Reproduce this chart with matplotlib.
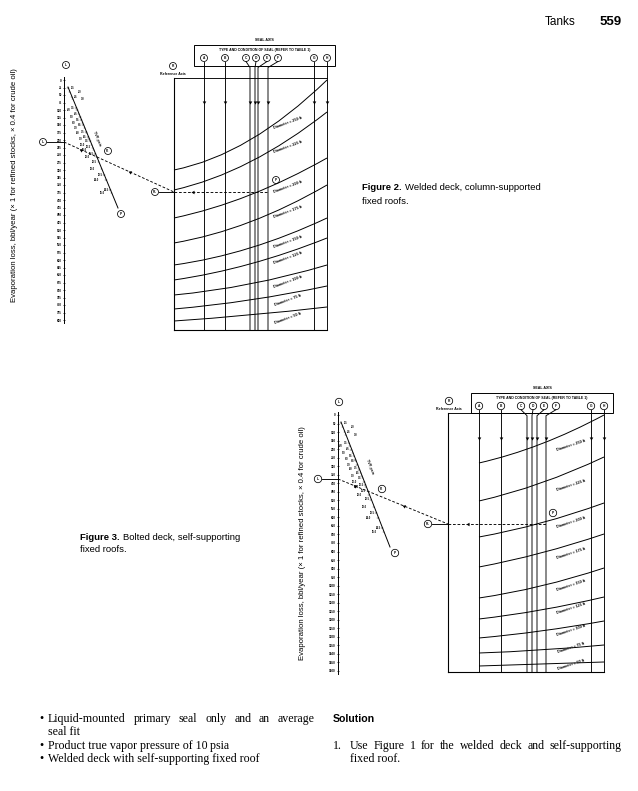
import numpy as np
import matplotlib.pyplot as plt
from matplotlib.path import Path
from matplotlib.patches import PathPatch, Circle, Rectangle

W, H = 638, 791
SANS = ["Liberation Sans", "DejaVu Sans"]
SERIF = ["Liberation Serif", "DejaVu Serif"]

# ---- nomograph data -------------------------------------------------------
SEAL_TYPES = ["A", "B", "C", "D", "E", "F", "G", "H"]
DIAMETERS = [250, 225, 200, 175, 150, 125, 100, 75, 50]
LOSS_TICKS_FIG2 = list(range(0, 801, 25))
LOSS_TICKS_FIG3 = list(range(0, 1501, 50))
TVP_LABELS = [1.5, 2.0, 2.5, 3.0, 3.5, 4.0, 4.5, 5.0, 5.5, 6.0, 6.5, 7.0, 7.5,
              8.0, 8.5, 9.0, 9.5, 10.0, 10.5, 11.0, 11.5, 12.0, 12.5, 13.0,
              13.5, 14.0, 14.5, 15.0]
# where each TVP label sits along the scale line (0 = top end, 1 = bottom end)
TVP_FRAC = [0.01, 0.04, 0.08, 0.10, 0.17, 0.19, 0.22, 0.25, 0.27, 0.30, 0.31,
            0.34, 0.37, 0.38, 0.41, 0.43, 0.45, 0.48, 0.50, 0.52, 0.55, 0.58,
            0.62, 0.68, 0.73, 0.77, 0.85, 0.88]

# diameter curves at left / middle / right of each chart
FIG2_CURVE_LEFT = [170, 190, 218, 243, 265, 280, 295, 309, 321]
FIG2_CURVE_MID = [140, 162, 195, 222, 248, 264, 284, 300, 315]
FIG2_CURVE_RIGHT = [80, 112, 158, 185, 218, 238, 265, 286, 307]
FIG3_CURVE_LEFT = [463, 501, 537, 567, 598, 619, 638, 653, 666]
FIG3_CURVE_MID = [444, 483, 523, 553, 586, 610, 631, 650, 664]
FIG3_CURVE_RIGHT = [415, 457, 503, 534, 568, 597, 621, 645, 662]

YLABEL = "Evaporation loss, bbl/year (\u00d7 1 for refined stocks, \u00d7 0.4 for crude oil)"

FIG2 = dict(
    ref_x=174, top_y=78, bottom_y=330,
    circle_x=[204, 225, 246, 256, 267, 278, 314, 327],
    line_x=[204, 225, 250, 255, 258, 268, 314, 327],
    circle_y=58, arrow_y=102, box=(194, 45, 335, 66),
    seal_axis_y=40, box_title_y=50, ref_circle=(173, 66), ref_label_y=74,
    curve_x=(174, 250, 327), label_x=288,
    label_y=[123, 147, 187, 212, 242, 258, 282, 300, 318], label_rot=20,
    L_x=64, L_y0=80, L_y1=320, L_circle=(66, 65), L1=(43, 142),
    tvp=((68, 87), (118, 208)), P_end=(121, 214), tvp_label=(97, 138),
    P1=(108, 151), R1=(155, 192), read_x=268, P=(276, 180),
    ylabel=(15, 185), r=3.5,
)
FIG3 = dict(
    ref_x=448, top_y=413, bottom_y=672,
    circle_x=[479, 501, 521, 533, 544, 556, 591, 604],
    line_x=[479, 501, 527, 532, 537, 546, 591, 604],
    circle_y=406, arrow_y=438, box=(471, 393, 613, 413),
    seal_axis_y=388, box_title_y=398, ref_circle=(449, 401), ref_label_y=409,
    curve_x=(479, 541, 604), label_x=571,
    label_y=[445, 485, 522, 553, 585, 608, 630, 648, 665], label_rot=18,
    L_x=338, L_y0=415, L_y1=671, L_circle=(339, 402), L1=(318, 479),
    tvp=((341, 422), (390, 547)), P_end=(395, 553), tvp_label=(370, 467),
    P1=(382, 489), R1=(428, 524), read_x=546, P=(553, 513),
    ylabel=(303, 543), r=3.7,
)


def circ(ax, x, y, label, r):
    ax.add_patch(Circle((x, y), r, fill=False, lw=0.55, ec="k"))
    ax.text(x, y, label, ha="center", va="center", fontsize=2.3,
            fontweight="bold", family=SANS)


def arrowhead(ax, x, y, dx, dy, ms=3.0):
    # page y grows downward, so flip dy for the on-screen angle
    ang = np.degrees(np.arctan2(-dy, dx)) - 90
    ax.plot(x, y, marker=(3, 0, ang), ms=ms, color="k", mew=0)


def draw_nomograph(fig, ax, c, loss_ticks, left, mid, right):
    r = c["r"]
    lw = 0.65
    bx0, by0, bx1, by1 = c["box"]
    cx = (bx0 + bx1) / 2
    ax.text(cx, c["seal_axis_y"], "SEAL AXIS", ha="center", va="center",
            fontsize=2.6, fontweight="bold", family=SANS)
    ax.add_patch(Rectangle((bx0, by0), bx1 - bx0, by1 - by0, fill=False,
                           lw=0.7, ec="k"))
    ax.text(cx, c["box_title_y"], "TYPE AND CONDITION OF SEAL (REFER TO TABLE 1)",
            ha="center", va="center", fontsize=2.5, fontweight="bold", family=SANS)

    # seal lines
    for s, xc, xl in zip(SEAL_TYPES, c["circle_x"], c["line_x"]):
        circ(ax, xc, c["circle_y"], s, r)
        ys = c["circle_y"] + r
        ax.plot([xc, xl, xl], [ys, ys + 6, c["bottom_y"]], color="k", lw=lw)
        arrowhead(ax, xl, c["arrow_y"], 0, 1)

    # frame: top, reference axis, bottom
    ax.plot([c["ref_x"], c["line_x"][-1]], [c["top_y"]] * 2, color="k", lw=lw)
    ax.plot([c["ref_x"]] * 2, [c["top_y"], c["bottom_y"]], color="k", lw=0.8)
    ax.plot([c["ref_x"], c["line_x"][-1]], [c["bottom_y"]] * 2, color="k", lw=0.8)
    circ(ax, *c["ref_circle"], "R", r)
    ax.text(c["ref_circle"][0], c["ref_label_y"], "Reference Axis", ha="center",
            va="center", fontsize=2.5, fontweight="bold", family=SANS)

    # diameter curves (quadratic through the three readings)
    x0, xm, x1 = c["curve_x"]
    for d, yl, ym, yr, ly in zip(DIAMETERS, left, mid, right, c["label_y"]):
        ctrl = (2 * xm - (x0 + x1) / 2, 2 * ym - (yl + yr) / 2)
        path = Path([(x0, yl), ctrl, (x1, yr)],
                    [Path.MOVETO, Path.CURVE3, Path.CURVE3])
        ax.add_patch(PathPatch(path, fill=False, lw=0.7, ec="k"))
        ax.text(c["label_x"], ly, f"Diameter = {d} ft", ha="center",
                va="center", rotation=c["label_rot"], fontsize=2.7,
                fontweight="bold", family=SANS)

    # loss scale as a real axis
    lmax = loss_ticks[-1]
    pad = 3
    scale = (c["L_y1"] - c["L_y0"]) / lmax
    sax = fig.add_axes([c["L_x"] / W, 1 - (c["L_y1"] + pad) / H, 0.002,
                        (c["L_y1"] - c["L_y0"] + 2 * pad) / H])
    sax.set_ylim(lmax + pad / scale, -pad / scale)
    sax.set_xticks([])
    sax.patch.set_alpha(0)
    for sp in ["top", "right", "bottom"]:
        sax.spines[sp].set_visible(False)
    sax.spines["left"].set_linewidth(0.7)
    sax.set_yticks(loss_ticks)
    sax.set_yticklabels([str(v) for v in loss_ticks], fontsize=2.2,
                        fontweight="bold", family=SANS)
    sax.tick_params(axis="y", direction="inout", length=2, width=0.5, pad=0.6)
    circ(ax, *c["L_circle"], "L", r)

    # L1 reading
    lx1, ly1 = c["L1"]
    circ(ax, lx1, ly1, "L\u2081", r)
    ax.plot([lx1 + r, c["L_x"]], [ly1, ly1], color="k", lw=lw)

    # TVP scale: top group right of the line, the rest on the left,
    # both staggered into two columns so the tiny labels stay apart
    (tx0, ty0), (tx1, ty1) = c["tvp"]
    ax.plot([tx0, tx1], [ty0, ty1], color="k", lw=0.7)
    lab = dict(va="center", fontsize=1.8, fontweight="bold", family=SANS)
    for i, (v, f) in enumerate(zip(TVP_LABELS, TVP_FRAC)):
        px, py = tx0 + f * (tx1 - tx0), ty0 + f * (ty1 - ty0)
        ax.plot([px - 1.4, px], [py, py], color="k", lw=0.35)
        off = 1.8 if i % 2 == 0 else 7.2
        if i < 4:
            ax.text(px + off + 0.4, py, f"{v:.1f}", ha="left", **lab)
        else:
            ax.text(px - off, py, f"{v:.1f}", ha="right", **lab)
    circ(ax, *c["P_end"], "P", r)
    ang = np.degrees(np.arctan2(-(ty1 - ty0), tx1 - tx0))
    ax.text(*c["tvp_label"], "TVP, psia", ha="center", va="center",
            rotation=ang, fontsize=2.5, fontweight="bold", family=SANS)

    # worked example: dashed path
    ry = c["R1"][1]
    dash = dict(color="k", lw=0.65, ls=(0, (3, 2)))
    ax.plot([c["L_x"], c["ref_x"]], [ly1, ry], **dash)
    ax.plot([c["ref_x"], c["read_x"]], [ry, ry], **dash)
    dx, dy = c["L_x"] - c["ref_x"], ly1 - ry
    for f in (0.15, 0.6):
        arrowhead(ax, c["L_x"] - f * dx, ly1 - f * dy, dx, dy)
    arrowhead(ax, c["ref_x"] + 0.2 * (c["read_x"] - c["ref_x"]), ry, -1, 0)
    circ(ax, *c["R1"], "R\u2081", r)
    ax.plot([c["R1"][0] + r, c["ref_x"]], [ry, ry], color="k", lw=lw)
    circ(ax, *c["P1"], "P\u2081", r)
    circ(ax, *c["P"], "P", r)

    ax.text(*c["ylabel"], YLABEL, ha="center", va="center", rotation=90,
            fontsize=5.6, family=SANS)


def runs(fig, ax, parts, x, y, **kw):
    rend = fig.canvas.get_renderer()
    for text, weight, gap in parts:
        t = ax.text(x, y, text, fontweight=weight, **kw)
        x += t.get_window_extent(rend).width + gap


def justify(fig, ax, line, x0, x1, y, **kw):
    rend = fig.canvas.get_renderer()
    words = line.split()
    ts = [ax.text(x0, y, w, **kw) for w in words]
    ws = [t.get_window_extent(rend).width for t in ts]
    gap = (x1 - x0 - sum(ws)) / (len(ws) - 1)
    x = x0
    for t, w in zip(ts, ws):
        t.set_x(x)
        x += w + gap


def main():
    fig = plt.figure(figsize=(W / 100, H / 100), dpi=100)
    ax = fig.add_axes([0, 0, 1, 1])
    ax.set_xlim(0, W)
    ax.set_ylim(H, 0)
    ax.axis("off")

    # running head
    ax.text(545, 22, "Tanks", ha="left", va="center", fontsize=8.5, family=SANS)
    ax.text(622, 22, "559", ha="right", va="center", fontsize=9.5,
            fontweight="bold", family=SANS)

    draw_nomograph(fig, ax, FIG2, LOSS_TICKS_FIG2,
                   FIG2_CURVE_LEFT, FIG2_CURVE_MID, FIG2_CURVE_RIGHT)
    draw_nomograph(fig, ax, FIG3, LOSS_TICKS_FIG3,
                   FIG3_CURVE_LEFT, FIG3_CURVE_MID, FIG3_CURVE_RIGHT)

    cap = dict(va="center", fontsize=6.8, family=SANS)
    runs(fig, ax, [("Figure 2.", "bold", 3), ("Welded deck, column-supported", "normal", 0)],
         362, 188, **cap)
    ax.text(362, 201, "fixed roofs.", **cap)
    runs(fig, ax, [("Figure 3.", "bold", 3), ("Bolted deck, self-supporting", "normal", 0)],
         80, 537, **cap)
    ax.text(80, 550, "fixed roofs.", **cap)

    # body text
    body = dict(va="center", fontsize=8.6, family=SERIF)
    for y in (719, 746, 759):
        ax.text(39, y, "\u2022", ha="left", **body)
    justify(fig, ax, "Liquid-mounted primary seal only and an average", 48, 315, 719, **body)
    ax.text(48, 732, "seal fit", **body)
    ax.text(48, 746, "Product true vapor pressure of 10\u2009psia", **body)
    ax.text(48, 759, "Welded deck with self-supporting fixed roof", **body)

    ax.text(333, 719, "Solution", va="center", fontsize=7.6, fontweight="bold",
            family=SANS)
    ax.text(333, 746, "1.", **body)
    justify(fig, ax, "Use Figure 1 for the welded deck and self-supporting", 350, 622, 746, **body)
    ax.text(350, 759, "fixed roof.", **body)

    fig.savefig("out.png", dpi=100, facecolor="white")


if __name__ == "__main__":
    main()
